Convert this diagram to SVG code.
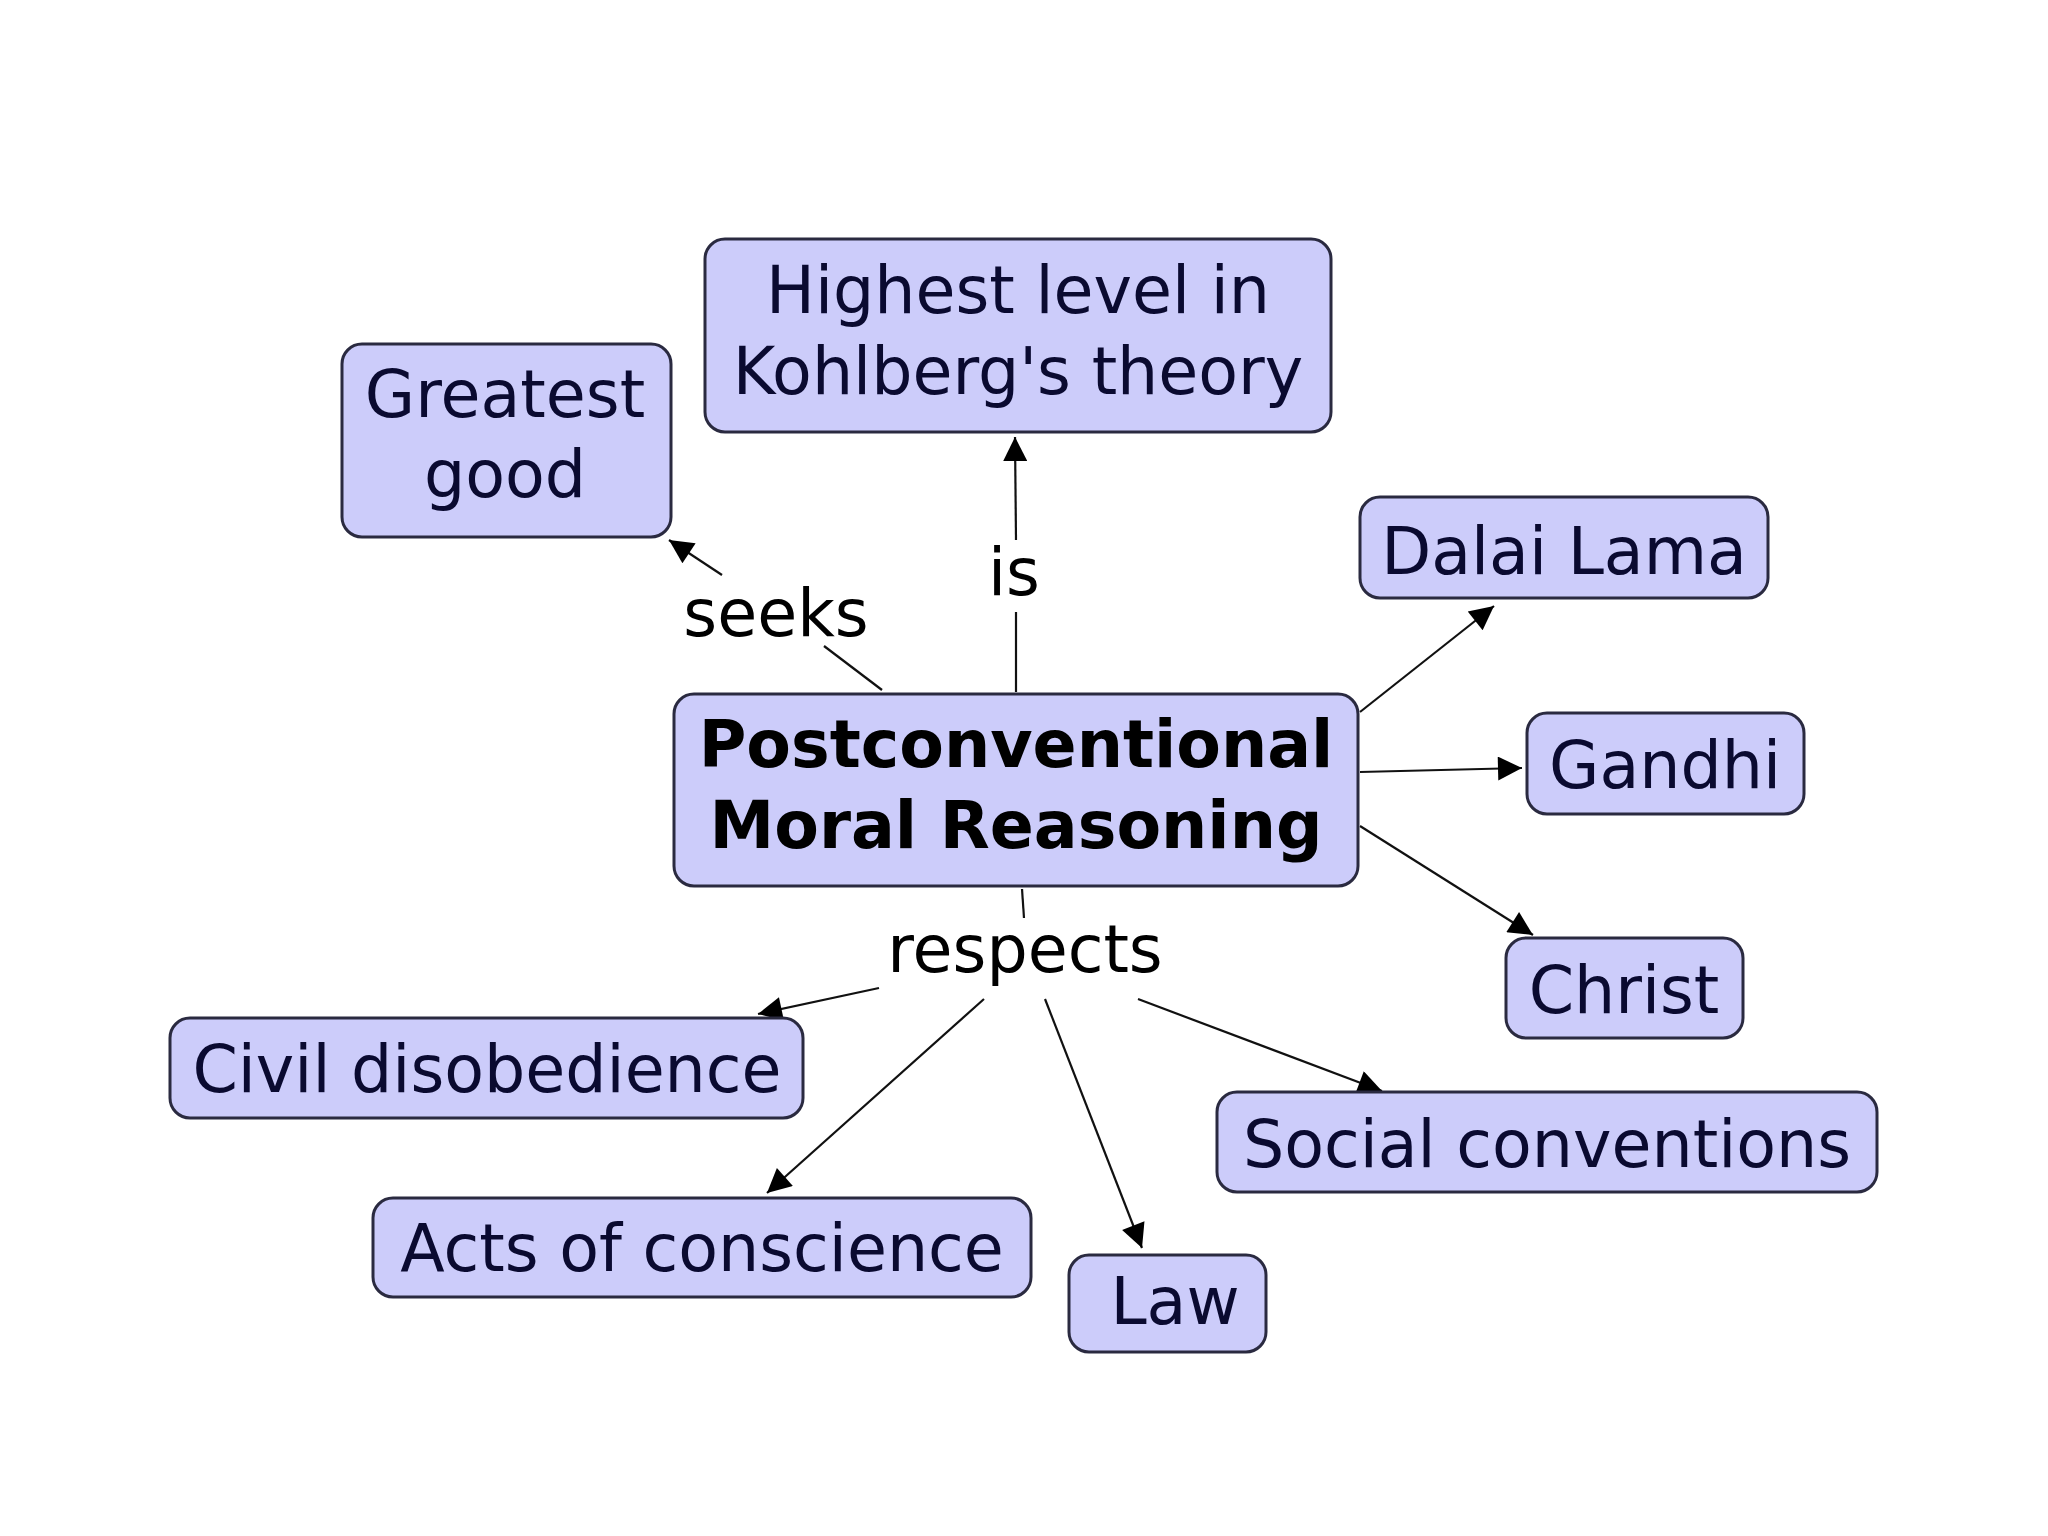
<svg xmlns="http://www.w3.org/2000/svg" width="2048" height="1536" viewBox="0 0 2048 1536">
<style>
.node rect{fill:#ccccfa;stroke:#2a2a40;stroke-width:3}
.node text{font-family:"DejaVu Sans",Verdana,sans-serif;font-size:65px;fill:#0a0a30;text-anchor:middle}
.node text.b{font-weight:bold;fill:#000}
.lbl{font-family:"DejaVu Sans",Verdana,sans-serif;font-size:65px;fill:#000;text-anchor:middle}
.c line{stroke:#111;stroke-width:2.2}
</style>
<defs>
<marker id="ah" viewBox="0 0 10 10" refX="10" refY="5" markerUnits="userSpaceOnUse" markerWidth="30" markerHeight="24" orient="auto">
<path d="M0,0 L10,5 L0,10 z" fill="#000"/>
</marker>
</defs>
<rect width="2048" height="1536" fill="#fff"/>
<g id="connectors" class="c">
<line x1="1016" y1="692" x2="1016" y2="612"/>
<line x1="1016" y1="540" x2="1015" y2="437" marker-end="url(#ah)"/>
<line x1="882" y1="690" x2="824" y2="646"/>
<line x1="722" y1="575" x2="669" y2="540" marker-end="url(#ah)"/>
<line x1="1360" y1="712" x2="1494" y2="606" marker-end="url(#ah)"/>
<line x1="1360" y1="772" x2="1522" y2="768" marker-end="url(#ah)"/>
<line x1="1360" y1="826" x2="1533" y2="935" marker-end="url(#ah)"/>
<line x1="1022" y1="889" x2="1024" y2="918"/>
<line x1="879" y1="988" x2="758" y2="1014" marker-end="url(#ah)"/>
<line x1="984" y1="999" x2="767" y2="1193" marker-end="url(#ah)"/>
<line x1="1045" y1="999" x2="1142" y2="1248" marker-end="url(#ah)"/>
<line x1="1138" y1="999" x2="1382" y2="1091" marker-end="url(#ah)"/>
<text class="lbl" x="1014" y="595">is</text>
<text class="lbl" x="776" y="636">seeks</text>
<text class="lbl" x="1025" y="972">respects</text>
</g>
<g id="n-highest" class="node">
<rect x="705" y="239" width="626" height="193" rx="20"/>
<text x="1018" y="313">Highest level in</text>
<text x="1018" y="394">Kohlberg's theory</text>
</g>
<g id="n-greatest" class="node">
<rect x="342" y="344" width="329" height="193" rx="20"/>
<text x="505" y="417">Greatest</text>
<text x="505" y="497">good</text>
</g>
<g id="n-post" class="node">
<rect x="674" y="694" width="684" height="192" rx="20"/>
<text class="b" x="1016" y="767">Postconventional</text>
<text class="b" x="1016" y="848">Moral Reasoning</text>
</g>
<g id="n-dalai" class="node">
<rect x="1360" y="497" width="408" height="101" rx="20"/>
<text x="1564" y="574">Dalai Lama</text>
</g>
<g id="n-gandhi" class="node">
<rect x="1527" y="713" width="277" height="101" rx="20"/>
<text x="1665" y="788">Gandhi</text>
</g>
<g id="n-christ" class="node">
<rect x="1506" y="938" width="237" height="100" rx="20"/>
<text x="1624" y="1013">Christ</text>
</g>
<g id="n-civil" class="node">
<rect x="170" y="1018" width="633" height="100" rx="20"/>
<text x="487" y="1092">Civil disobedience</text>
</g>
<g id="n-social" class="node">
<rect x="1217" y="1092" width="660" height="100" rx="20"/>
<text x="1547" y="1167">Social conventions</text>
</g>
<g id="n-acts" class="node">
<rect x="373" y="1198" width="658" height="99" rx="20"/>
<text x="702" y="1271">Acts of conscience</text>
</g>
<g id="n-law" class="node">
<rect x="1069" y="1255" width="197" height="97" rx="20"/>
<text x="1175" y="1324">Law</text>
</g>
</svg>
